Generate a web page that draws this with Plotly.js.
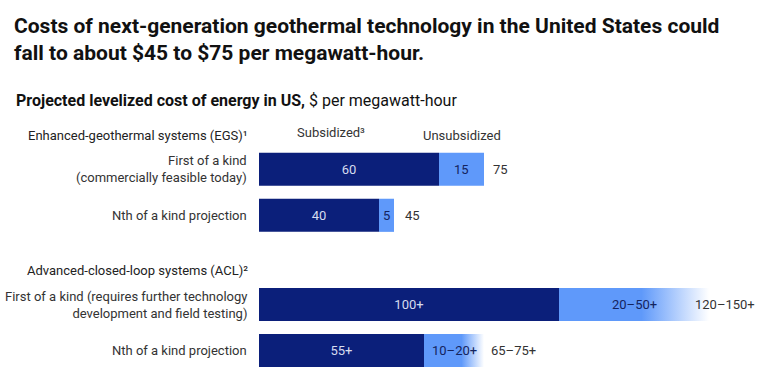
<!DOCTYPE html>
<html><head><meta charset="utf-8">
<script src="https://cdn.plot.ly/plotly-3.0.1.min.js"></script>
<style>html,body{margin:0;padding:0;background:#fff}#chart{width:768px;height:386px}</style>
</head><body><div id="chart"></div>
<script>
// ---- data ----
const groupNames = ['Enhanced-geothermal systems (EGS)¹', 'Advanced-closed-loop systems (ACL)²'];
const rowGroup = [0, 0, 1, 1];
const rowLabels = ['First of a kind<br>(commercially feasible today)', 'Nth of a kind projection',
                   'First of a kind (requires further technology<br>development and field testing)', 'Nth of a kind projection'];
const subsidized = [60, 40, 100, 55];
const unsubLow = [15, 5, 20, 10];
const unsubHigh = [15, 5, 50, 20];
const subsidizedText = ['60', '40', '100+', '55+'];
const unsubText = ['15', '5', '20–50+', '10–20+'];
const totalText = ['75', '45', '120–150+', '65–75+'];
const seriesNames = ['Subsidized³', 'Unsubsidized'];
const titleText = 'Costs of next-generation geothermal technology in the United States could<br>fall to about $45 to $75 per megawatt-hour.';
const subtitleBold = 'Projected levelized cost of energy in US,';
const subtitleRest = ' $ per megawatt-hour';

// ---- layout constants ----
const W = 768, H = 386, ML = 259, MT = 100;
const PX_PER_UNIT = 3, ROW_PX = 46, FIRST_ROW_PX = 169.3, GROUP_GAP = 0.94, BAR_W = 0.72;
const NAVY = '#0b1f7a', LIGHT = '#5f99fa';
const FONT = 'Roboto, "Liberation Sans", sans-serif';
const totalShift = [7, 9, -16, 5];

const plotW = W - ML, plotH = H - MT;
const xPaper = px => (px - ML) / plotW;
const yPaper = py => 1 - (py - MT) / plotH;
const rowY = rowGroup.map((g, i) => i + g * GROUP_GAP);
const yTop = (MT - FIRST_ROW_PX) / ROW_PX, yBot = (H - FIRST_ROW_PX) / ROW_PX;

const traces = [];
traces.push({
  type: 'bar', orientation: 'h', name: seriesNames[0], y: rowY, x: subsidized, width: BAR_W,
  marker: {color: NAVY, line: {width: 0}}, text: subsidizedText, textposition: 'inside',
  insidetextanchor: 'middle', constraintext: 'none',
  textfont: {family: FONT, size: 13, color: '#d6dcef'}, hoverinfo: 'skip'
});
traces.push({
  type: 'bar', orientation: 'h', name: seriesNames[1], y: rowY, x: unsubLow, base: subsidized, width: BAR_W,
  marker: {color: LIGHT, line: {width: 0}}, hoverinfo: 'skip'
});
rowY.forEach((y, i) => {
  if (unsubHigh[i] > unsubLow[i]) {
    const x0 = subsidized[i] + unsubLow[i], x1 = subsidized[i] + unsubHigh[i], h = BAR_W / 2;
    traces.push({
      type: 'scatter', mode: 'lines', showlegend: false, hoverinfo: 'skip',
      x: [x0, x1, x1, x0, x0], y: [y - h, y - h, y + h, y + h, y - h],
      fill: 'toself', line: {width: 0, color: 'rgba(0,0,0,0)'},
      fillgradient: {type: 'horizontal', colorscale: [[0, LIGHT], [0.25, LIGHT], [1, 'rgba(255,255,255,1)']]}
    });
  }
});

const ann = [];
// subtitle
ann.push({xref: 'paper', yref: 'paper', x: xPaper(14), y: yPaper(100), xanchor: 'left', yanchor: 'middle',
  text: '<b>' + subtitleBold + '</b>' + subtitleRest, showarrow: false,
  font: {family: FONT, size: 16, color: '#111'}});
// group headers
groupNames.forEach((g, gi) => {
  const first = rowGroup.indexOf(gi);
  ann.push({xref: 'x', yref: 'y', x: 0, y: rowY[first] - 0.74, xanchor: 'right', xshift: -9, yanchor: 'middle',
    text: g, showarrow: false, font: {family: FONT, size: 13, color: '#222'}});
});
// series headers
ann.push({xref: 'paper', yref: 'y', x: xPaper(331), y: rowY[0] - 0.79, xanchor: 'center', yanchor: 'middle',
  text: seriesNames[0], showarrow: false, font: {family: FONT, size: 13, color: '#333'}});
ann.push({xref: 'x', yref: 'y', x: subsidized[0] + unsubHigh[0] / 2, y: rowY[0] - 0.74, xanchor: 'center', yanchor: 'middle',
  text: seriesNames[1], showarrow: false, font: {family: FONT, size: 13, color: '#333'}});
// row labels, unsub labels, totals
rowY.forEach((y, i) => {
  ann.push({xref: 'x', yref: 'y', x: 0, y: y, xanchor: 'right', xshift: -10, yanchor: 'middle', align: 'right',
    text: rowLabels[i], showarrow: false, font: {family: FONT, size: 13, color: '#333'}});
  ann.push({xref: 'x', yref: 'y', x: subsidized[i] + unsubHigh[i] / 2, y: y, xanchor: 'center', yanchor: 'middle',
    text: unsubText[i], showarrow: false, font: {family: FONT, size: 13, color: '#14245e'}});
  ann.push({xref: 'x', yref: 'y', x: subsidized[i] + unsubHigh[i], y: y, xanchor: 'left', xshift: totalShift[i], yanchor: 'middle',
    text: totalText[i], showarrow: false, font: {family: FONT, size: 13, color: '#333'}});
});

const layout = {
  width: W, height: H, paper_bgcolor: '#fff', plot_bgcolor: '#fff',
  margin: {l: ML, r: 0, t: MT, b: 0, pad: 0},
  showlegend: false, barmode: 'overlay',
  title: {text: '<b>' + titleText + '</b>', xref: 'container', yref: 'container', x: 14 / W, xanchor: 'left',
    y: 1 - 33 / H, yanchor: 'top', font: {family: FONT, size: 21, color: '#111'}},
  xaxis: {range: [0, plotW / PX_PER_UNIT], showgrid: false, zeroline: false, showticklabels: false, showline: false, fixedrange: true},
  yaxis: {range: [yBot, yTop], showgrid: false, zeroline: false, showticklabels: false, showline: false, fixedrange: true},
  annotations: ann
};
Plotly.newPlot('chart', traces, layout, {staticPlot: true, displayModeBar: false});
</script></body></html>
